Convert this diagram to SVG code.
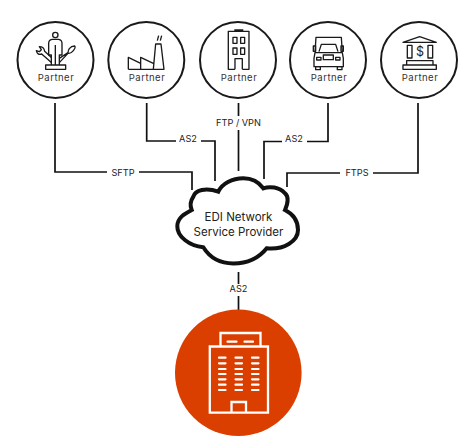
<svg xmlns="http://www.w3.org/2000/svg" width="474" height="444" viewBox="0 0 474 444">
<style>
.ring{fill:#fff;stroke:#1a1a1a;stroke-width:2}
.lbl{font-family:"Inter","Liberation Sans",sans-serif;font-size:9.5px;fill:#333;text-anchor:middle;letter-spacing:.5px}
.c{font-family:"Inter","Liberation Sans",sans-serif;font-size:9.2px;fill:#222;text-anchor:middle}
.t{font-family:"Inter","Liberation Sans",sans-serif;font-size:11.5px;fill:#222;text-anchor:middle}
.ic{fill:none;stroke:#1a1a1a;stroke-width:4;stroke-linejoin:round}
.w{fill:none;stroke:#fff;stroke-width:2.3}
.wn{stroke:#fff;stroke-width:2.2;stroke-linecap:round}
#connectors path{fill:none;stroke:#111;stroke-width:1.7}
</style>
<g id="connectors">
<path d="M55 103V172H107M139 172H192V190"/>
<path d="M146.700 103V141H176M201 141H215V181"/>
<path d="M238.500 103V116M238.500 130V171"/>
<path d="M328 103V141.500H307M282 141.500H264V179"/>
<path d="M418 103V173H373M340 173H287V187"/>
<path d="M238.500 272V284M238.500 296V310"/>
</g>
<g id="partner1">
<circle class="ring" cx="55.500" cy="60" r="38"/>
<g class="ic" transform="translate(0,10) scale(.3333)">
<circle cx="166" cy="75" r="8"/>
<path d="M156 88H176Q186 90 186 100V135H178V165M156 88Q146 90 146 100V135H154V165M166 105V165"/>
<path d="M137 165H197V178H137Z"/>
<path d="M155 158L125 132Q112 136 109 122L118 125L124 119L118 110Q132 110 134 124L155 143"/>
<path d="M178 158L204 130Q212 132 220 122Q228 112 224 108Q214 108 208 116Q204 122 204 128L178 145"/>
</g>
<text class="lbl" x="56" y="81">Partner</text>
</g>
<g id="partner2">
<circle class="ring" cx="146.300" cy="60" r="38"/>
<g class="ic" transform="translate(0,10) scale(.3333)">
<path d="M385 178H492L483 102H467L460 178M385 178V142L422 160V178M422 160V142L460 160"/>
<path d="M472 92L476 77M481 92L485 77"/>
</g>
<text class="lbl" x="147" y="81">Partner</text>
</g>
<g id="partner3">
<circle class="ring" cx="238" cy="60" r="38"/>
<g class="ic" transform="translate(0,10) scale(.3333)">
<path d="M705 178H685V64H747V178H727M705 178V146H727V178M703 60H730"/>
<path d="M699 82H711V100H699ZM699 114H711V133H699ZM722 82H734V100H722ZM722 114H734V133H722Z"/>
</g>
<text class="lbl" x="239" y="81">Partner</text>
</g>
<g id="partner4">
<circle class="ring" cx="328" cy="60" r="38"/>
<g class="ic" transform="translate(234,10) scale(.3333)">
<path d="M246 82H322L325 128L328 145V170H240V145L243 128ZM243 128H325M255 125L262 103H305L312 125"/>
<path d="M238 108H245V124H238ZM321 108H328V124H321ZM268 135H298V149H268ZM248 142H261V150H248ZM305 142H318V150H305ZM245 170H259V179H245ZM310 170H324V179H310Z"/>
</g>
<text class="lbl" x="329" y="81">Partner</text>
</g>
<g id="partner5">
<circle class="ring" cx="419" cy="60" r="38"/>
<g class="ic" transform="translate(234,10) scale(.3333)">
<path d="M507 97L557 80L607 97Z"/>
<path d="M520 106H534V144H520ZM582 106H596V144H582ZM518 152H597V165H518ZM507 165H607V178H507Z"/>
</g>
<text x="420" y="56" font-family="Inter,'Liberation Sans',sans-serif" font-size="12.500" fill="#1a1a1a" text-anchor="middle">$</text>
<text class="lbl" x="420" y="81">Partner</text>
</g>
<g id="cloud">
<path d="M191.700 210C186 213 177.500 217 177.300 226C177 237 190 246 203.300 247.300C210 258 221 263.500 233.300 263.500C247 263.500 259 258 266.700 248.300C284 250 298 241 298 230C298 221 293 214 285 210C289 201 288 196 285 193.300C279 187 270 186 263.300 188.300C258 181 251 178.300 243.300 178.300C232 178.300 222 184 218.300 191.700C206 187 195 190 193.300 196.700C190.500 201 190 206 191.700 210Z" fill="#fff" stroke="#111" stroke-width="4"/>
<text class="t" x="238.500" y="221">EDI Network</text>
<text class="t" x="238.500" y="235.500">Service Provider</text>
</g>
<g id="labels">
<text class="c" x="123" y="175.500">SFTP</text>
<text class="c" x="188" y="142">AS2</text>
<text class="c" x="238.500" y="125.500">FTP / VPN</text>
<text class="c" x="294" y="142">AS2</text>
<text class="c" x="357" y="175.500">FTPS</text>
<text class="c" x="238.500" y="292">AS2</text>
</g>
<g id="enterprise">
<circle cx="238.300" cy="372.700" r="63.300" fill="#da3f00"/>
<path class="w" d="M209.800 346.500H268V412.700H209.800ZM220.500 346.500V333H260.500V346.500M231.500 412.700V402H246V412.700"/>
<path class="wn" d="M227.500 341.700H236.500M244.500 341.700H253M219 357.700H225.500M235.500 357.700H242M252 357.700H258.500M219 363.300H225.500M235.500 363.300H242M252 363.300H258.500M219 369H225.500M235.500 369H242M252 369H258.500M219 374H225.500M235.500 374H242M252 374H258.500M219 379.300H225.500M235.500 379.300H242M252 379.300H258.500M219 384.700H225.500M235.500 384.700H242M252 384.700H258.500M219 390H225.500M235.500 390H242M252 390H258.500"/>
</g>
</svg>
